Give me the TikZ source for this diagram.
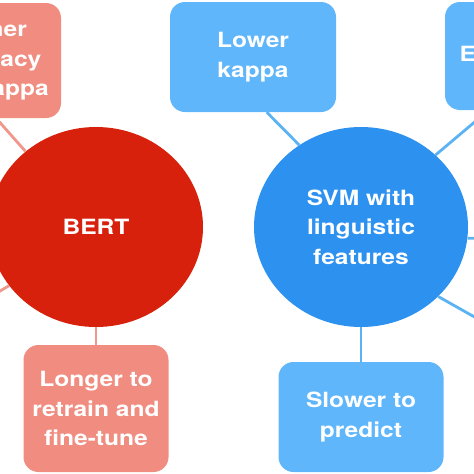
\documentclass[tikz,border=0pt]{standalone}
\usepackage{fontspec}
\setmainfont{TeX Gyre Heros}[FakeStretch=1.17]
\usetikzlibrary{shapes.geometric}
\definecolor{bertred}{HTML}{D8210C}
\definecolor{svmblue}{HTML}{2D91F0}
\definecolor{redbox}{HTML}{F08C80}
\definecolor{bluebox}{HTML}{5FB6FA}
\definecolor{redlink}{HTML}{F0968B}
\definecolor{bluelink}{HTML}{5CB3F4}
\begin{document}
\begin{tikzpicture}[x=1pt, y=-1pt,
    txt/.style={text=white, align=center, inner sep=0pt,
      font=\bfseries\fontsize{21}{29.5}\selectfont},
    ball/.style={txt, ellipse, minimum width=214pt, minimum height=200pt},
    redbox/.style={txt, fill=redbox, rounded corners=15pt},
    bluebox/.style={txt, fill=bluebox, rounded corners=15pt},
    redlink/.style={draw=redlink, line width=2.8pt},
    bluelink/.style={draw=bluelink, line width=2.8pt}]
  \useasboundingbox (0,0) rectangle (474,474);
  \clip (0,0) rectangle (474,474);
  % the two models
  \node[ball, fill=bertred] (bert) at (96,227) {BERT};
  \node[ball, fill=svmblue] (svm) at (361,227) {SVM with\\linguistic\\features};
  % BERT side
  \node[redbox, minimum width=146pt, minimum height=115pt] (acc) at (-12,60.5) {Higher\\accuracy\\and kappa};
  \node[redbox, minimum width=145pt, minimum height=127pt] (retrain) at (96,408.5) {Longer to\\retrain and\\fine-tune};
  \coordinate (bertout) at (-30,309);
  % SVM side
  \node[bluebox, minimum width=166pt, minimum height=110pt] (kappa) at (253,57) {Lower\\kappa};
  \node[bluebox, minimum width=166pt, minimum height=108pt] (explain) at (528,56) {Explainable};
  \node[bluebox, minimum width=165pt, minimum height=110pt] (slow) at (361,417) {Slower to\\predict};
  \coordinate (svmout1) at (520,238);
  \coordinate (svmout2) at (510,337);
  % links
  \draw[redlink] (acc.-82) -- (bert.133);
  \draw[redlink] (bert.214) -- (bertout);
  \draw[redlink] (bert.south) -- (retrain.north);
  \draw[bluelink] (kappa.-76) -- (svm.127);
  \draw[bluelink] (explain.-126) -- (svm.44);
  \draw[bluelink] (svm.-6) -- (svmout1);
  \draw[bluelink] (svm.-42) -- (svmout2);
  \draw[bluelink] (svm.south) -- (slow.north);
\end{tikzpicture}
\end{document}
